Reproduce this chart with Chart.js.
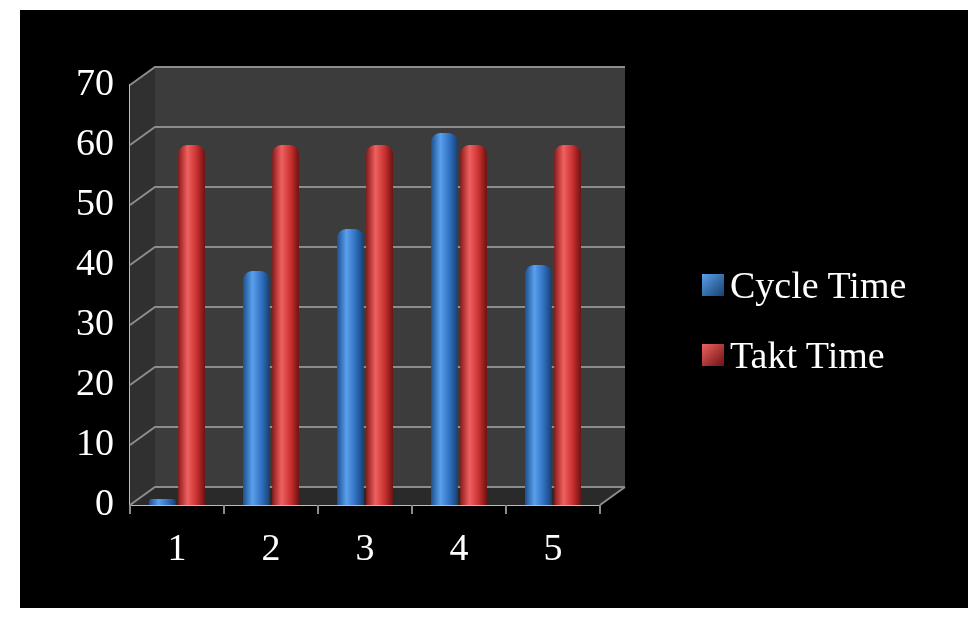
<!DOCTYPE html>
<html>
<head>
<meta charset="utf-8">
<script src="https://cdn.jsdelivr.net/npm/chart.js@4/dist/chart.umd.min.js"></script>
<style>
  body { margin: 0; background: #fff; }
  #box { position: absolute; left: 20px; top: 10px; width: 948px; height: 598px; background: #000; }
  #legend { position: absolute; left: 682px; top: 240px; color: #fff; font-family: "Liberation Serif", serif; font-size: 38px; }
  #legend div { display: flex; align-items: center; height: 70px; }
  #legend span { display: inline-block; width: 22px; height: 22px; margin-right: 6px; }
</style>
</head>
<body>
<div id="box">
  <canvas id="chart" width="948" height="598"></canvas>
  <div id="legend"></div>
</div>
<script>
const categories = ["1", "2", "3", "4", "5"];
const cycleTime = [1, 39, 46, 62, 40];
const taktTime = [60, 60, 60, 60, 60];
const seriesNames = ["Cycle Time", "Takt Time"];

const shades = [
  ["#1d4f8f", "#5aa0ec", "#2f6fc0", "#17406f"],
  ["#8a1a1a", "#f06060", "#c83030", "#6d1212"],
];
const CAT_PCT = 0.62, BAR_PCT = 0.92;

// cylinder look: horizontal gradient across each bar
function cylinder(c) {
  const chart = c.chart, x = chart.scales.x;
  const s = shades[c.datasetIndex];
  if (!x || x.width === undefined || !chart.ctx) return s[2];
  const cat = x.width / categories.length;
  const slot = cat * CAT_PCT / 2;
  const w = slot * BAR_PCT;
  const cx = x.getPixelForValue(c.dataIndex) + (c.datasetIndex - 0.5) * slot;
  const g = chart.ctx.createLinearGradient(cx - w / 2, 0, cx + w / 2, 0);
  g.addColorStop(0, s[0]);
  g.addColorStop(0.35, s[1]);
  g.addColorStop(0.7, s[2]);
  g.addColorStop(1, s[3]);
  return g;
}

// back wall with depth offset, like the 3D office chart
const backWall = {
  id: "backWall",
  beforeDatasetsDraw(chart) {
    const { ctx, chartArea: a, scales } = chart;
    const dx = 25, dy = -18;
    ctx.save();
    ctx.fillStyle = "#3c3c3c";
    ctx.fillRect(a.left + dx, a.top + dy, a.right - a.left, a.bottom - a.top);
    ctx.fillStyle = "#2a2a2a";
    ctx.beginPath();
    ctx.moveTo(a.left, a.bottom);
    ctx.lineTo(a.left + dx, a.bottom + dy);
    ctx.lineTo(a.right + dx, a.bottom + dy);
    ctx.lineTo(a.right, a.bottom);
    ctx.closePath();
    ctx.fill();
    ctx.fillStyle = "#303030";
    ctx.beginPath();
    ctx.moveTo(a.left, a.top);
    ctx.lineTo(a.left + dx, a.top + dy);
    ctx.lineTo(a.left + dx, a.bottom + dy);
    ctx.lineTo(a.left, a.bottom);
    ctx.closePath();
    ctx.fill();
    ctx.strokeStyle = "#8c8c8c";
    ctx.lineWidth = 2;
    scales.y.ticks.forEach((t) => {
      const y = scales.y.getPixelForValue(t.value);
      ctx.beginPath();
      ctx.moveTo(a.left, y);
      ctx.lineTo(a.left + dx, y + dy);
      ctx.lineTo(a.right + dx, y + dy);
      ctx.stroke();
    });
    ctx.beginPath();
    ctx.moveTo(a.right, a.bottom);
    ctx.lineTo(a.right + dx, a.bottom + dy);
    ctx.stroke();
    // x axis tick marks at category borders
    const cat = (a.right - a.left) / categories.length;
    for (let i = 0; i <= categories.length; i++) {
      ctx.beginPath();
      ctx.moveTo(a.left + i * cat, a.bottom);
      ctx.lineTo(a.left + i * cat, a.bottom + 9);
      ctx.stroke();
    }
    ctx.restore();
  },
};

new Chart(document.getElementById("chart"), {
  type: "bar",
  data: {
    labels: categories,
    datasets: [
      { label: seriesNames[0], data: cycleTime, backgroundColor: cylinder, borderRadius: { topLeft: 9, topRight: 9 }, borderSkipped: false },
      { label: seriesNames[1], data: taktTime, backgroundColor: cylinder, borderRadius: { topLeft: 9, topRight: 9 }, borderSkipped: false },
    ],
  },
  options: {
    responsive: false,
    animation: false,
    layout: { padding: { top: 75, right: 368, left: 0, bottom: 0 } },
    datasets: { bar: { categoryPercentage: CAT_PCT, barPercentage: BAR_PCT } },
    plugins: { legend: { display: false }, tooltip: { enabled: false } },
    scales: {
      x: {
        grid: { display: false },
        border: { color: "#bbb", width: 2 },
        ticks: { color: "#fff", font: { family: "Liberation Serif", size: 38 }, padding: 14 },
        afterFit(s) { s.height = 103; },
      },
      y: {
        min: 0, max: 70,
        grid: { display: false },
        border: { color: "#bbb", width: 2 },
        ticks: { stepSize: 10, color: "#fff", font: { family: "Liberation Serif", size: 38 }, padding: 8 },
        afterFit(s) { s.width = 110; },
      },
    },
  },
  plugins: [backWall],
});

const legend = document.getElementById("legend");
seriesNames.forEach((n, i) => {
  const d = document.createElement("div");
  const sw = document.createElement("span");
  sw.style.background = `linear-gradient(135deg, ${shades[i][1]}, ${shades[i][3]})`;
  d.appendChild(sw);
  d.appendChild(document.createTextNode(n));
  legend.appendChild(d);
});
</script>
</body>
</html>
